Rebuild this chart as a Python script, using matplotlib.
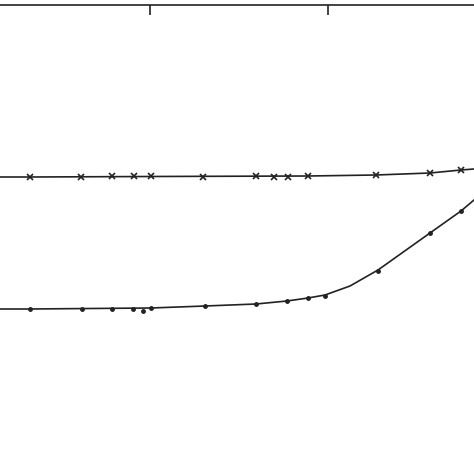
import matplotlib
matplotlib.use("Agg")
import matplotlib.pyplot as plt

# values (x across, y downward, same units as the image)
cross_x = [30, 81, 112, 134, 151, 203, 256, 274, 288, 308, 376, 430, 461]
cross_y = [177, 177, 176, 176, 176, 177, 176, 177, 177, 176, 175, 173, 170]
cross_line_x = [0, 30, 151, 308, 376, 430, 461, 474]
cross_line_y = [177, 177, 176.5, 176, 175, 173, 170, 169]

dot_x = [30, 82, 112, 133, 143, 151, 205, 256, 287, 308, 325, 378, 430, 461]
dot_y = [309, 309, 309, 309, 311, 308, 306, 304, 301, 298, 296, 271, 233, 211]
dot_line_x = [0, 30, 151, 205, 256, 287, 308, 325, 350, 378, 430, 461, 474]
dot_line_y = [309, 309, 308, 306, 304, 301, 298, 295, 286, 270, 233, 211, 200]

top_ticks = [150, 328]

fig = plt.figure(figsize=(4.74, 4.74), dpi=100)
ax = fig.add_axes([0, 0, 1, 1 - 5 / 474])
ax.plot(cross_line_x, cross_line_y, color="#222222", lw=1.2)
ax.plot(cross_x, cross_y, "x", color="#222222", ms=5, mew=1.2)
ax.plot(dot_line_x, dot_line_y, color="#222222", lw=1.2)
ax.plot(dot_x, dot_y, "o", color="#222222", ms=2.5)

ax.set_xlim(0, 474)
ax.set_ylim(474, 5)
for side in ("left", "right", "bottom"):
    ax.spines[side].set_visible(False)
ax.spines["top"].set_linewidth(1.2)
ax.spines["top"].set_color("#222222")
ax.xaxis.tick_top()
ax.set_xticks(top_ticks)
ax.set_xticklabels([])
ax.tick_params(axis="x", direction="in", length=7, width=1.2, color="#222222")
ax.set_yticks([])

fig.savefig("out.png", dpi=100)
